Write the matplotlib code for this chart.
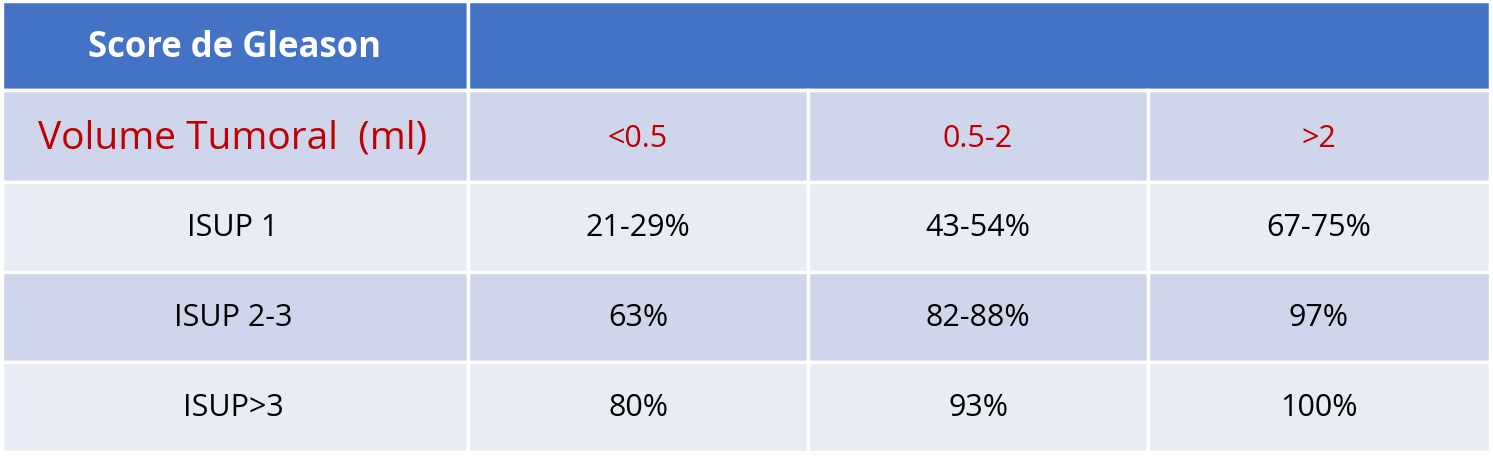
import matplotlib.pyplot as plt
from matplotlib.patches import Rectangle

header = 'Score de Gleason'
row_label = 'Volume Tumoral  (ml)'
volumes = ['<0.5', '0.5-2', '>2']
grades = ['ISUP 1', 'ISUP 2-3', 'ISUP>3']
values = [['21-29%', '43-54%', '67-75%'],
          ['63%', '82-88%', '97%'],
          ['80%', '93%', '100%']]

W, H = 1493, 460
fig = plt.figure(figsize=(W / 100, H / 100), dpi=100)
ax = fig.add_axes([0, 0, 1, 1])
ax.set_xlim(0, W)
ax.set_ylim(H, 0)
ax.axis('off')

col_x = [2, 468, 808, 1148, 1490]
row_y = [2, 91, 183, 273, 363, 453]
blue = '#4472C4'
dark = '#CFD5EA'
light = '#E9EBF5'
red = '#C00000'
font = 'Open Sans'

def cell(x0, x1, y0, y1, color):
    ax.add_patch(Rectangle((x0, y0), x1 - x0, y1 - y0, facecolor=color,
                           edgecolor='white', linewidth=2.5))

# header row
cell(col_x[0], col_x[1], row_y[0], row_y[1], blue)
cell(col_x[1], col_x[4], row_y[0], row_y[1], blue)
ax.text(235, 48, header, color='white', fontsize=25, fontweight='bold',
        family=font, ha='center', va='center')

# volume row
cell(col_x[0], col_x[1], row_y[1], row_y[2], dark)
ax.text(233, 139, row_label, color=red, fontsize=28, family=font,
        ha='center', va='center')
for j, v in enumerate(volumes):
    cell(col_x[j + 1], col_x[j + 2], row_y[1], row_y[2], dark)
    ax.text((col_x[j + 1] + col_x[j + 2]) / 2, 139, v, color=red,
            fontsize=22, family=font, ha='center', va='center')

# data rows
for i, g in enumerate(grades):
    color = light if i % 2 == 0 else dark
    y0, y1 = row_y[i + 2], row_y[i + 3]
    yc = (y0 + y1) / 2
    cell(col_x[0], col_x[1], y0, y1, color)
    ax.text(233, yc, g, fontsize=22, family=font, ha='center', va='center')
    for j in range(3):
        cell(col_x[j + 1], col_x[j + 2], y0, y1, color)
        ax.text((col_x[j + 1] + col_x[j + 2]) / 2, yc, values[i][j],
                fontsize=22, family=font, ha='center', va='center')

fig.savefig('out.png', dpi=100)
